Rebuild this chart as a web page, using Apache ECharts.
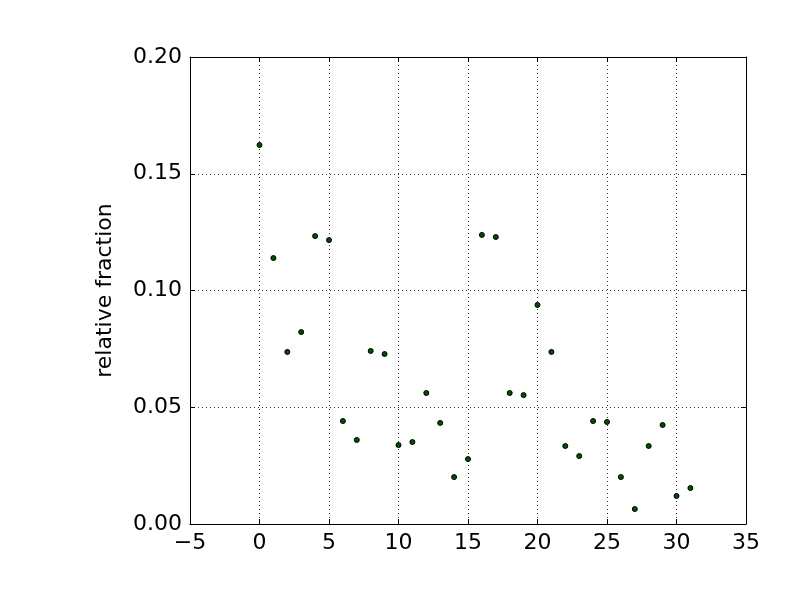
<!DOCTYPE html>
<html><head><meta charset="utf-8">
<script src="https://cdn.jsdelivr.net/npm/echarts@6/dist/echarts.min.js"></script>
<style>html,body{margin:0;background:#fff}#c{width:800px;height:600px}</style>
</head><body><div id="c"></div>
<script>
const xValues = [0,1,2,3,4,5,6,7,8,9,10,11,12,13,14,15,16,17,18,19,20,21,22,23,24,25,26,27,28,29,30,31];
const yValues = [0.1623,0.1139,0.0737,0.0822,0.1233,0.1216,0.0441,0.0360,0.0741,0.0728,0.0338,0.0351,0.0561,0.0433,0.0201,0.0278,0.1238,0.1229,0.0561,0.0552,0.0938,0.0737,0.0334,0.0291,0.0441,0.0437,0.0201,0.0064,0.0334,0.0424,0.0120,0.0154];
const yLabel = 'relative fraction';
const font = 'DejaVu Sans';
const chart = echarts.init(document.getElementById('c'));
const axisBase = {
  axisLine:{show:true,onZero:false,lineStyle:{color:'#000',width:1}},
  axisTick:{show:true,inside:true,length:5,lineStyle:{color:'#000'}},
  splitLine:{show:false}
};
chart.setOption({
  animation:false,
  grid:{left:190,right:54,top:57,bottom:76},
  xAxis:[
    Object.assign({type:'value',min:-5,max:35,interval:5,position:'bottom',
      axisLabel:{color:'#000',fontSize:22,fontFamily:font,margin:8,formatter:v=>v<0?'\u2212'+(-v):String(v)},
      splitLine:{show:true,lineStyle:{color:'#000',type:[1,3],width:0.8}}},
      {axisLine:axisBase.axisLine,axisTick:axisBase.axisTick}),
    Object.assign({type:'value',min:-5,max:35,interval:5,position:'top',axisLabel:{show:false}},axisBase)
  ],
  yAxis:[
    Object.assign({type:'value',min:0,max:0.2,interval:0.05,position:'left',
      name:yLabel,nameLocation:'middle',nameGap:74,
      nameTextStyle:{color:'#000',fontSize:22,fontFamily:font},
      axisLabel:{color:'#000',fontSize:22,fontFamily:font,margin:8,formatter:v=>v.toFixed(2)},
      splitLine:{show:true,lineStyle:{color:'#000',type:[1,3],width:0.8}}},
      {axisLine:axisBase.axisLine,axisTick:axisBase.axisTick}),
    Object.assign({type:'value',min:0,max:0.2,interval:0.05,position:'right',axisLabel:{show:false}},axisBase)
  ],
  series:[{type:'scatter',data:xValues.map((x,i)=>[x,yValues[i]]),symbolSize:5,
    itemStyle:{color:'#005000',borderColor:'#000',borderWidth:1,opacity:1}}]
});
</script></body></html>
